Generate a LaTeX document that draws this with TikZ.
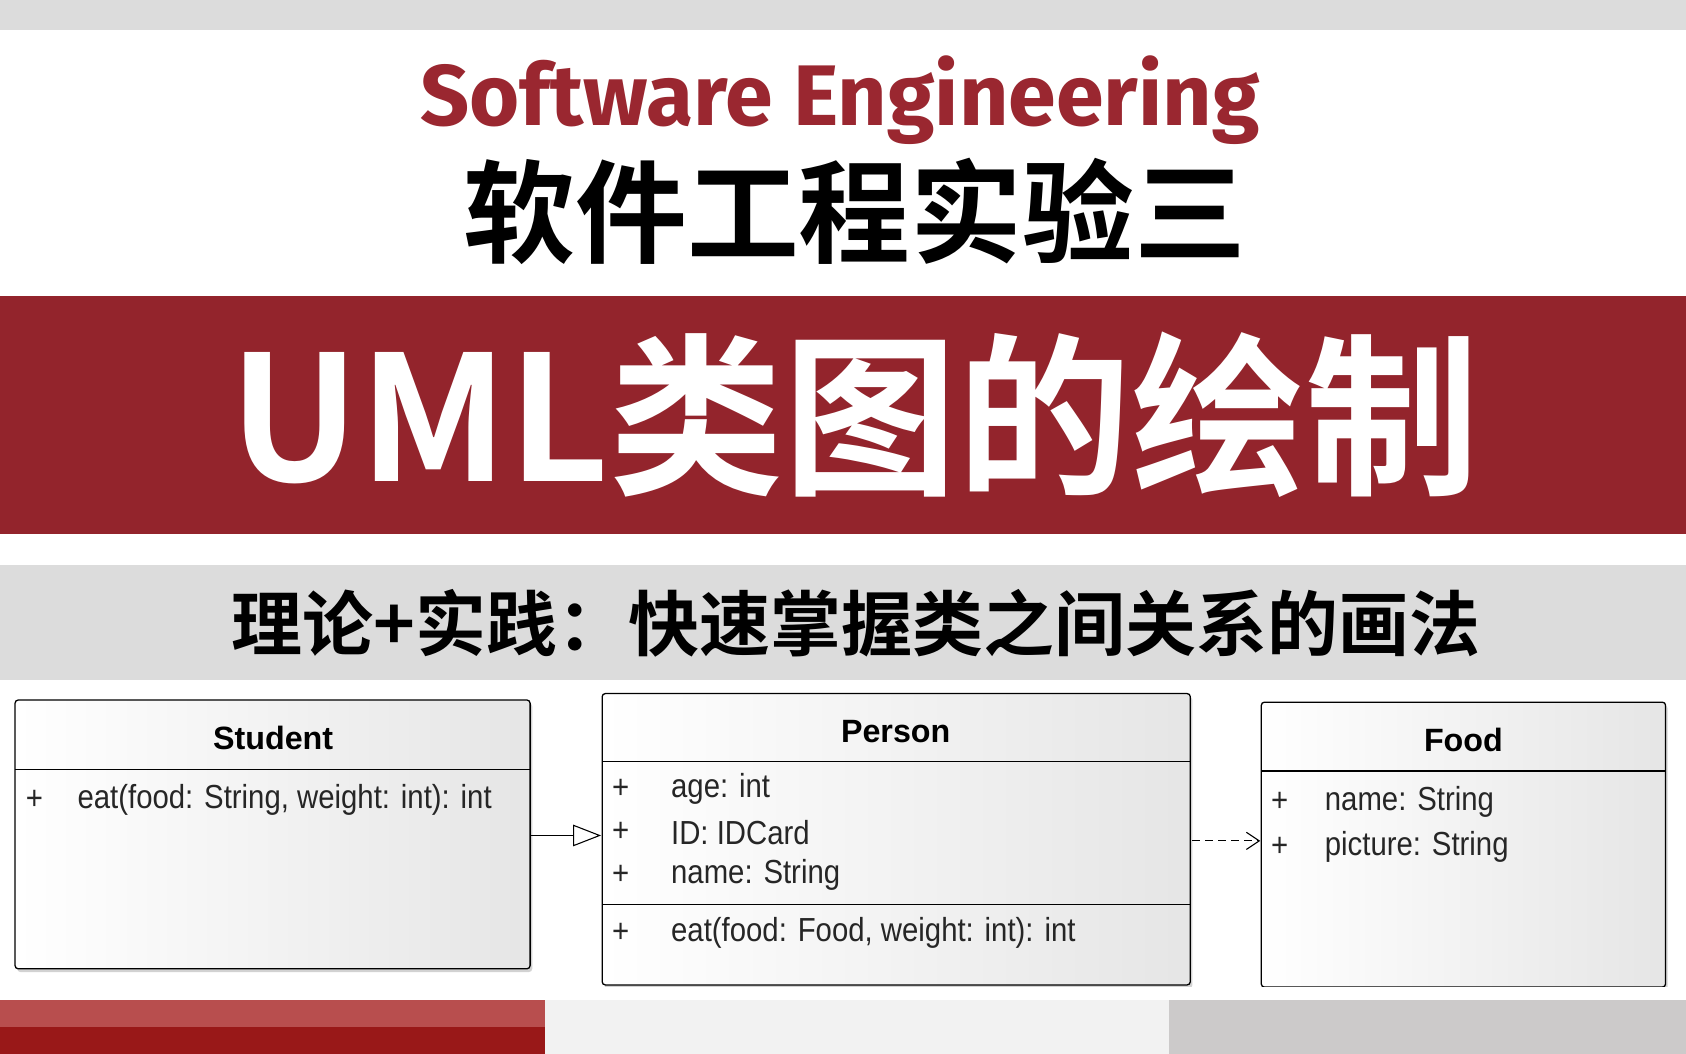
\documentclass[tikz,border=0pt]{standalone}
\usepackage{fontspec}
\setmainfont{Liberation Sans}
\newfontfamily\cjk{Noto Sans CJK SC}[BoldFont={* Bold}]
\newfontfamily\titlef{Fira Sans}
\usetikzlibrary{arrows.meta,shadows}
\definecolor{dred}{HTML}{93242C}
\definecolor{tred}{HTML}{9A2730}
\definecolor{lgray}{HTML}{DCDCDC}
\definecolor{b1c}{HTML}{B84E4E}
\definecolor{b2c}{HTML}{991818}
\definecolor{b3c}{HTML}{F2F2F2}
\definecolor{b4c}{HTML}{CCCACA}
\tikzset{
 cls/.style={draw=black,line width=1.2pt,rounded corners=3pt,left color=white,right color=black!10,drop shadow={shadow xshift=2pt,shadow yshift=-3pt,fill=black!35}},
 attr/.style={anchor=west,font=\fontsize{31}{34}\selectfont,xscale=0.88,text=black!85,inner sep=0},
 hdr/.style={font=\bfseries\fontsize{30}{33}\selectfont,inner sep=0},
}
\begin{document}
\begin{tikzpicture}[x=1pt,y=-1pt]
\useasboundingbox (0,0) rectangle (1568,980);
\fill[white] (0,0) rectangle (1568,980);
\fill[lgray] (0,0) rectangle (1568,28);
\node[text=tred,font=\titlef\bfseries\fontsize{80}{80}\selectfont] (t1) at (781,93) {Software Engineering};
\node[font=\cjk\bfseries\fontsize{104}{104}\selectfont] (t2) at (795,197) {软件工程实验三};
\fill[dred] (0,275) rectangle (1568,497);
\node[text=white,font=\cjk\bfseries\fontsize{162}{162}\selectfont] (t3) at (795,386) {UML类图的绘制};
\fill[lgray] (0,525) rectangle (1568,632);
\node[font=\cjk\bfseries\fontsize{66}{66}\selectfont] (t4) at (796,580) {理论+实践：快速掌握类之间关系的画法};
% classes
\path[cls] (14,651) rectangle (493,901);
\draw[line width=1pt] (14,716) -- (493,716);
\node[hdr] (sh) at (254,686) {Student};
\node[attr] at (24,744) {+};
\node[attr] at (72,744) {eat(food: String, weight: int): int};
\path[cls] (560,645) rectangle (1107,916);
\draw[line width=1pt] (560,708) -- (1107,708) (560,841) -- (1107,841);
\node[hdr] (ph) at (833,680) {Person};
\foreach \y/\t in {734/age: int,774/ID: IDCard,814/name: String,868/{eat(food: Food, weight: int): int}}{
 \node[attr] at (569,\y) {+}; \node[attr] at (624,\y) {\t};}
\path[cls] (1173,653) rectangle (1549,918);
\draw[line width=1pt] (1173,717) -- (1549,717);
\node[hdr] (fh) at (1361,688) {Food};
\node[attr] at (1182,746) {+}; \node[attr] at (1232,746) {name: String};
\node[attr] at (1182,788) {+}; \node[attr] at (1232,788) {picture: String};
\coordinate (a1) at (494,777); \coordinate (a2) at (559,777);
\draw[-{Triangle[open,length=26pt,width=20pt]},line width=1pt] (a1) -- (a2);
\coordinate (b1) at (1109,782); \coordinate (b2) at (1172,782);
\draw[dashed,dash pattern=on 7pt off 5pt,-{Straight Barb[length=12pt,width=16pt]},line width=1pt] (b1) -- (b2);
% bottom bars
\fill[white] (0,918) rectangle (1568,930);
\fill[b1c] (0,930) rectangle (507,955);
\fill[b2c] (0,955) rectangle (507,980);
\fill[b3c] (507,930) rectangle (1087,980);
\fill[b4c] (1087,930) rectangle (1568,980);
\end{tikzpicture}
\end{document}
